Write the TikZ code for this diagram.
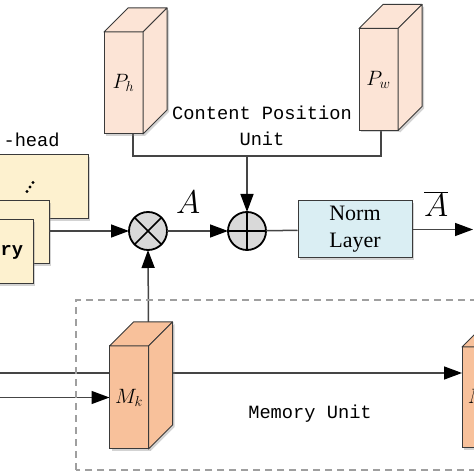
\documentclass[tikz,border=0pt]{standalone}
\usepackage{fontspec}
\setmonofont{Liberation Mono}
\newfontfamily\normfont{Liberation Serif}
\usetikzlibrary{arrows.meta, calc, positioning, shadows}
\definecolor{MEMline}{HTML}{454545}
\definecolor{MEMedge}{HTML}{3A3A3A}
\definecolor{MEMpeach}{HTML}{FCE4D6}
\definecolor{MEMorange}{HTML}{F8C19B}
\definecolor{MEMyellow}{HTML}{FDF1CF}
\definecolor{MEMblue}{HTML}{DAEEF3}
\definecolor{MEMgray}{HTML}{D9D9D9}
\pgfdeclarelayer{bg}
\pgfsetlayers{bg,main}

\begin{document}
\begin{tikzpicture}[x=1pt, y=1pt,
    conn/.style={draw=MEMline, line width=1.5pt},
    arr/.style={conn, -{Triangle[length=18pt,width=13pt,color=black]}},
    shade1/.style={drop shadow={shadow xshift=2pt, shadow yshift=-2pt, opacity=0.35}},
    cube/.style={draw=MEMedge, line width=1pt, minimum width=39pt, minimum height=102pt,
       inner sep=0pt, outer sep=0pt, shade1, font=\huge},
    face/.style={draw=MEMedge, line width=1pt, line join=round},
    mhbox/.style={draw=MEMedge, line width=1pt, fill=MEMyellow, outer sep=0pt, shade1},
    opnode/.style={circle, draw=black, line width=1.8pt, fill=MEMgray, minimum size=38pt,
       inner sep=0pt, outer sep=0pt},
    mono/.style={font=\fontsize{18.7}{26}\selectfont\ttfamily},
    biglabel/.style={font=\Huge, scale=1.32, inner sep=0pt}]
   \useasboundingbox (0,0) rectangle (474,474);
   \clip (0,0) rectangle (474,474);

   % multi-head stack
   \node[mhbox, minimum width=98pt, minimum height=64pt] (mh3) at (39,287) {};
   \foreach \d in {0,1,2}
      \fill (27+3*\d,282.5+4.5*\d) circle (1.6pt);
   \node[mhbox, minimum width=59pt, minimum height=63pt] (mh2) at (19.5,241.5) {};
   \node[mhbox, minimum width=43pt, minimum height=64pt] (mh1) at (11.5,222) {};
   \node[mono, anchor=west, inner sep=0pt, font=\fontsize{18.7}{26}\selectfont\ttfamily\bfseries] (qtxt) at (0.5,222) {ry};
   \node[mono, anchor=west] (mhtxt) at (0,334) {-head};

   % memory unit frame
   \draw[draw=gray!75, line width=1.2pt, dash pattern=on 7pt off 5pt] (76,4) rectangle (490,174);
   \node[mono] (mutxt) at (310,60) {Memory Unit};

   % cubes
   \node[cube, fill=MEMpeach] (ph) at (123.5,391) {$P_h$};
   \node[cube, fill=MEMpeach] (pw) at (378.5,394.5) {$P_w$};
   \node[cube, fill=MEMorange, minimum height=103pt] (mk) at (129,76.5) {$M_k$};
   \node[cube, fill=MEMorange, minimum height=101pt] (mv) at (481.5,76.5) {$M_{\phantom{v}}$};
   \foreach \c/\col in {ph/MEMpeach, pw/MEMpeach, mk/MEMorange, mv/MEMorange} {
      \filldraw[face, fill=\col] (\c.north west) -- ++(24,24) -- ($(\c.north east)+(24,24)$)
         -- (\c.north east) -- cycle;
      \filldraw[face, fill=\col, shade1] (\c.north east) -- ++(24,24) -- ($(\c.south east)+(24,24)$)
         -- (\c.south east) -- cycle;
   }
   \node[mono, align=center] (cpu) at (262,348) {Content Position\\Unit};

   % operators and norm
   \node[opnode, path picture={
      \draw[line width=1.5pt] (path picture bounding box.north west) -- (path picture bounding box.south east);
      \draw[line width=1.5pt] (path picture bounding box.north east) -- (path picture bounding box.south west);}]
      (ot) at (148,243) {};
   \node[opnode, path picture={
      \draw[line width=1.2pt] (path picture bounding box.north) -- (path picture bounding box.south);
      \draw[line width=1.2pt] (path picture bounding box.east) -- (path picture bounding box.west);}]
      (pl) at (247,243) {};
   \node[draw=MEMedge, line width=1pt, fill=MEMblue, minimum width=114pt, minimum height=57pt,
      align=center, shade1, font=\normfont\fontsize{22}{27}\selectfont] (nl) at (355,244.5) {Norm\\Layer};

   % connectors
   \coordinate (cj) at (247,318);
   \coordinate (out) at (473,244.5);
   \coordinate (mktop) at ($(mk.north east)+(0,24)$);
   \coordinate (in1) at (0,101);
   \coordinate (in2) at (0,76.5);
   \begin{pgfonlayer}{bg}
      \draw[conn] ([xshift=9.5pt]ph.south) |- (cj) -| ([xshift=2.5pt]pw.south);
      \draw[arr] (in1) -- (in1 -| mv.west);
      \draw[arr] (in2) -- (mk.west);
      \draw[arr] (mktop) -- (ot.south);
   \end{pgfonlayer}
   \draw[arr] (cj) -- (pl);
   \draw[arr] (mh2.east |- ot) -- (ot);
   \draw[arr] (ot) -- node[biglabel, above=17pt, xshift=-7pt] (alab) {$A$} (pl);
   \draw[conn] (pl) -- (nl);
   \draw[arr] (nl) -- node[biglabel, above=12pt, xshift=-5pt] (abar) {$\overline{A}$} (out);
\end{tikzpicture}
\end{document}
